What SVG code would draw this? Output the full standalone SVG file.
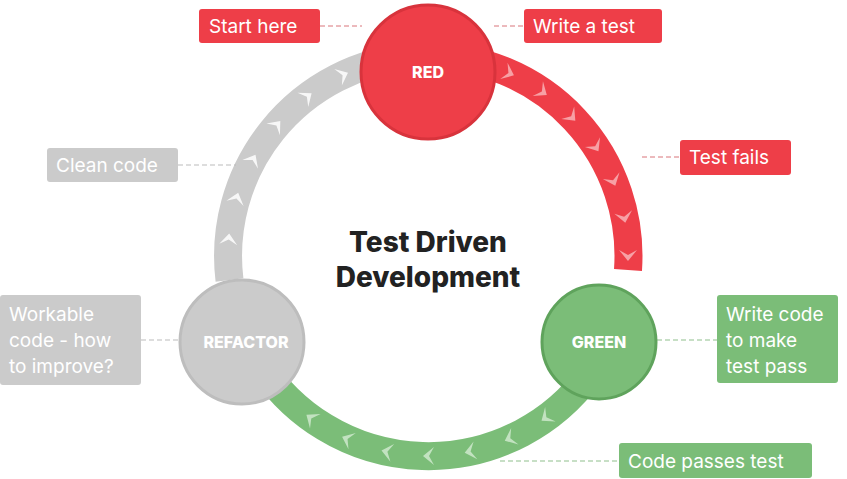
<svg xmlns="http://www.w3.org/2000/svg" width="847" height="479" viewBox="0 0 847 479">
<style>
.band{fill:none;stroke-width:28}
.lbl{font-family:Inter,"Open Sans",sans-serif;font-size:19px;fill:#fff}
.node{font-family:Inter,"Open Sans",sans-serif;font-size:16px;font-weight:800;fill:#fff;text-anchor:middle}
.dash{stroke-width:1;stroke-dasharray:5 3;fill:none}
</style>
<defs>
<path id="chev" d="M-9,-6 L0,5 L9,-6 L0,-1 Z"/>
</defs>
<rect width="847" height="479" fill="#fff"/>
<g id="connectors">
<path class="band" stroke="#cbcbcb" d="M 229.5 280 A 200 200 0 0 1 410 56.8"/>
<path class="band" stroke="#ee3e48" d="M 428 56 A 200 200 0 0 1 628 270"/>
<path class="band" stroke="#7bbd78" d="M 590 374 A 200 200 0 0 1 260 364"/>
<g fill="#ffffff" opacity="0.85">
<use href="#chev" transform="translate(428,256) rotate(185) translate(200,0)"/>
<use href="#chev" transform="translate(428,256) rotate(197) translate(200,0)"/>
<use href="#chev" transform="translate(428,256) rotate(209) translate(200,0)"/>
<use href="#chev" transform="translate(428,256) rotate(221) translate(200,0)"/>
<use href="#chev" transform="translate(428,256) rotate(233) translate(200,0)"/>
<use href="#chev" transform="translate(428,256) rotate(245) translate(200,0)"/>
<use href="#chev" transform="translate(428,256) rotate(257) translate(200,0)"/>
</g>
<g fill="#f7a0a5">
<use href="#chev" transform="translate(428,256) rotate(-66) translate(200,0)"/>
<use href="#chev" transform="translate(428,256) rotate(-55) translate(200,0)"/>
<use href="#chev" transform="translate(428,256) rotate(-44) translate(200,0)"/>
<use href="#chev" transform="translate(428,256) rotate(-33) translate(200,0)"/>
<use href="#chev" transform="translate(428,256) rotate(-22) translate(200,0)"/>
<use href="#chev" transform="translate(428,256) rotate(-11) translate(200,0)"/>
<use href="#chev" transform="translate(428,256) rotate(0) translate(200,0)"/>
</g>
<g fill="#c2e2c0">
<use href="#chev" transform="translate(428,256) rotate(30) translate(200,0)"/>
<use href="#chev" transform="translate(428,256) rotate(42) translate(200,0)"/>
<use href="#chev" transform="translate(428,256) rotate(54) translate(200,0)"/>
<use href="#chev" transform="translate(428,256) rotate(66) translate(200,0)"/>
<use href="#chev" transform="translate(428,256) rotate(78) translate(200,0)"/>
<use href="#chev" transform="translate(428,256) rotate(90) translate(200,0)"/>
<use href="#chev" transform="translate(428,256) rotate(102) translate(200,0)"/>
<use href="#chev" transform="translate(428,256) rotate(114) translate(200,0)"/>
<use href="#chev" transform="translate(428,256) rotate(126) translate(200,0)"/>
</g>
<line class="dash" stroke="#d9747a" x1="320" y1="26" x2="362" y2="26"/>
<line class="dash" stroke="#d9747a" x1="494" y1="26" x2="524" y2="26"/>
<line class="dash" stroke="#d9747a" x1="642" y1="157" x2="680" y2="157"/>
<line class="dash" stroke="#bbbbbb" x1="178" y1="165" x2="236" y2="165"/>
<line class="dash" stroke="#bbbbbb" x1="141" y1="340" x2="178" y2="340"/>
<line class="dash" stroke="#8fbf8c" x1="657" y1="340" x2="717" y2="340"/>
<line class="dash" stroke="#8fbf8c" x1="500" y1="461" x2="619" y2="461"/>
</g>
<g id="red"><circle cx="428" cy="72" r="67" fill="#ee3e48" stroke="#d8333c" stroke-width="3"/><text class="node" x="428" y="78">RED</text></g>
<g id="green"><circle cx="599" cy="342" r="57" fill="#7bbd78" stroke="#5fa35c" stroke-width="3"/><text class="node" x="599" y="348">GREEN</text></g>
<g id="refactor"><circle cx="242" cy="342" r="62" fill="#cbcbcb" stroke="#bdbdbd" stroke-width="3"/><text class="node" x="246" y="348">REFACTOR</text></g>
<g id="title"><text font-family="Inter,'Open Sans',sans-serif" font-size="28" font-weight="800" fill="#222" text-anchor="middle"><tspan x="428" y="252">Test Driven</tspan><tspan x="428" y="287">Development</tspan></text></g>
<g id="start"><rect x="199" y="9" width="121" height="34" rx="3" fill="#ee3e48"/><text class="lbl" x="209" y="33">Start here</text></g>
<g id="write-test"><rect x="524" y="9" width="138" height="34" rx="3" fill="#ee3e48"/><text class="lbl" x="533" y="33">Write a test</text></g>
<g id="test-fails"><rect x="680" y="140" width="111" height="35" rx="3" fill="#ee3e48"/><text class="lbl" x="689" y="164">Test fails</text></g>
<g id="clean"><rect x="47" y="148" width="131" height="34" rx="3" fill="#cbcbcb"/><text class="lbl" x="56" y="172">Clean code</text></g>
<g id="workable"><rect x="0" y="295" width="141" height="90" rx="3" fill="#cbcbcb"/><text class="lbl"><tspan x="9" y="321">Workable</tspan><tspan x="9" y="347">code - how</tspan><tspan x="9" y="373">to improve?</tspan></text></g>
<g id="write-code"><rect x="717" y="295" width="121" height="88" rx="3" fill="#7bbd78"/><text class="lbl"><tspan x="726" y="321">Write code</tspan><tspan x="726" y="347">to make</tspan><tspan x="726" y="373">test pass</tspan></text></g>
<g id="passes"><rect x="619" y="443" width="193" height="35" rx="3" fill="#7bbd78"/><text class="lbl" x="628" y="468">Code passes test</text></g>
</svg>
